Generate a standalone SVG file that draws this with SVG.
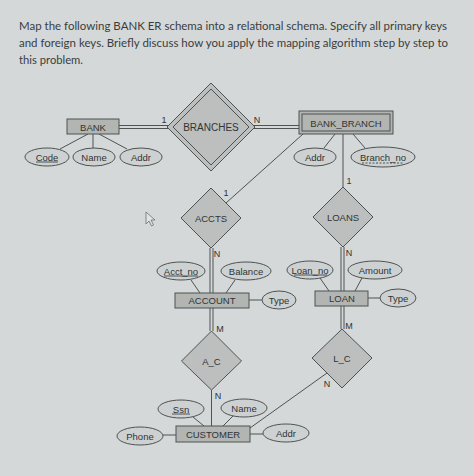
<svg xmlns="http://www.w3.org/2000/svg" width="474" height="476" viewBox="0 0 474 476">
<style>
.q{font-family:Lato,"Open Sans",sans-serif;font-size:12px;fill:#3a3d3f}
.t{font-family:"Liberation Sans",Arial,sans-serif;font-size:9.5px;fill:#303434;text-anchor:middle;dominant-baseline:central}
.n{font-family:"Liberation Sans",Arial,sans-serif;font-size:9px;fill:#303434;text-anchor:middle;dominant-baseline:central}
.ent{fill:#b2b5b2;stroke:#4d5252;stroke-width:1}
.rel{fill:#bcbfbd;stroke:#4d5252;stroke-width:1}
.att{fill:#cdd1d1;stroke:#4d5252;stroke-width:1}
.ln{stroke:#4d5252;stroke-width:1;fill:none}
.ul{stroke:#303434;stroke-width:0.8}
</style>
<rect width="474" height="476" fill="#d5d8d8"/>
<text class="q" x="19" y="30" textLength="428" lengthAdjust="spacingAndGlyphs">Map the following BANK ER schema into a relational schema. Specify all primary keys</text>
<text class="q" x="19" y="47" textLength="429" lengthAdjust="spacingAndGlyphs">and foreign keys. Briefly discuss how you apply the mapping algorithm step by step to</text>
<text class="q" x="19" y="64" textLength="64" lengthAdjust="spacingAndGlyphs">this problem.</text>

<g id="connectors">
  <line class="ln" x1="119" y1="125.5" x2="170" y2="125.5"/>
  <line class="ln" x1="119" y1="128.5" x2="170" y2="128.5"/>
  <line class="ln" x1="252" y1="125.5" x2="299" y2="125.5"/>
  <line class="ln" x1="252" y1="128.5" x2="299" y2="128.5"/>
  <line class="ln" x1="88" y1="134" x2="60" y2="149"/>
  <line class="ln" x1="93" y1="134" x2="93" y2="148"/>
  <line class="ln" x1="99" y1="134" x2="127" y2="149"/>
  <line class="ln" x1="335" y1="134" x2="324" y2="148"/>
  <line class="ln" x1="353" y1="134" x2="365" y2="148"/>
  <line class="ln" x1="343" y1="134" x2="343" y2="187"/>
  <line class="ln" x1="303" y1="134" x2="226" y2="203"/>
  <line class="ln" x1="210" y1="248" x2="210" y2="331"/>
  <line class="ln" x1="213" y1="248" x2="213" y2="331"/>
  <line class="ln" x1="341" y1="247" x2="341" y2="329"/>
  <line class="ln" x1="344" y1="247" x2="344" y2="329"/>
  <line class="ln" x1="191" y1="280" x2="200" y2="293"/>
  <line class="ln" x1="235" y1="280" x2="226" y2="293"/>
  <line class="ln" x1="249" y1="300" x2="262" y2="300"/>
  <line class="ln" x1="320" y1="278" x2="329" y2="291"/>
  <line class="ln" x1="362" y1="278" x2="355" y2="291"/>
  <line class="ln" x1="368" y1="298" x2="380" y2="298"/>
  <line class="ln" x1="211.5" y1="390" x2="211.5" y2="426"/>
  <line class="ln" x1="250" y1="428" x2="327" y2="373"/>
  <line class="ln" x1="193" y1="417" x2="204" y2="426"/>
  <line class="ln" x1="233" y1="416" x2="223" y2="426"/>
  <line class="ln" x1="163" y1="435" x2="176" y2="435"/>
  <line class="ln" x1="250" y1="434" x2="263" y2="434"/>
  <text class="n" x="164" y="120">1</text>
  <text class="n" x="257" y="120">N</text>
  <text class="n" x="349" y="181">1</text>
  <text class="n" x="226" y="193">1</text>
  <text class="n" x="217" y="254">N</text>
  <text class="n" x="349" y="253">N</text>
  <text class="n" x="220" y="329">M</text>
  <text class="n" x="349" y="326">M</text>
  <text class="n" x="218" y="396">N</text>
  <text class="n" x="327" y="384">N</text>
</g>

<g id="BANK">
  <rect class="ent" x="67" y="119" width="52" height="15"/>
  <text class="t" x="93" y="127">BANK</text>
</g>
<g id="BANK_Code">
  <ellipse class="att" cx="47" cy="157" rx="22" ry="9"/>
  <text class="t" x="47" y="157">Code</text>
  <line class="ul" x1="36" y1="162" x2="58" y2="162"/>
</g>
<g id="BANK_Name">
  <ellipse class="att" cx="94" cy="157" rx="21" ry="9"/>
  <text class="t" x="94" y="157">Name</text>
</g>
<g id="BANK_Addr">
  <ellipse class="att" cx="141" cy="157" rx="21" ry="9"/>
  <text class="t" x="141" y="157">Addr</text>
</g>

<g id="BRANCHES">
  <polygon class="rel" points="211,83 255,127 211,171 167,127"/>
  <polygon class="ln" points="211,89 249,127 211,165 173,127"/>
  <text class="t" x="211" y="127" style="font-size:10px">BRANCHES</text>
</g>

<g id="BANK_BRANCH">
  <rect class="ent" x="299" y="111" width="94" height="23"/>
  <rect class="ln" x="302" y="114" width="88" height="17"/>
  <text class="t" x="346" y="123">BANK_BRANCH</text>
</g>
<g id="BB_Addr">
  <ellipse class="att" cx="315" cy="157" rx="21" ry="9"/>
  <text class="t" x="315" y="157">Addr</text>
</g>
<g id="BB_Branch_no">
  <ellipse class="att" cx="383" cy="157" rx="32" ry="10"/>
  <text class="t" x="383" y="157">Branch_no</text>
  <line class="ul" x1="362" y1="163" x2="404" y2="163" stroke-dasharray="2,1.5"/>
</g>

<g id="ACCTS">
  <polygon class="rel" points="211,188 241,218 211,248 181,218"/>
  <text class="t" x="211" y="218">ACCTS</text>
</g>
<g id="LOANS">
  <polygon class="rel" points="343,187 373,217 343,247 313,217"/>
  <text class="t" x="343" y="217">LOANS</text>
</g>

<g id="ACCOUNT">
  <rect class="ent" x="175" y="293" width="74" height="15"/>
  <text class="t" x="212" y="300.5">ACCOUNT</text>
</g>
<g id="ACC_Acct_no">
  <ellipse class="att" cx="181" cy="271" rx="24" ry="9"/>
  <text class="t" x="181" y="271">Acct_no</text>
  <line class="ul" x1="164" y1="276" x2="198" y2="276"/>
</g>
<g id="ACC_Balance">
  <ellipse class="att" cx="246" cy="271" rx="25" ry="9"/>
  <text class="t" x="246" y="271">Balance</text>
</g>
<g id="ACC_Type">
  <ellipse class="att" cx="279" cy="300" rx="17" ry="9"/>
  <text class="t" x="279" y="300">Type</text>
</g>

<g id="LOAN">
  <rect class="ent" x="315" y="291" width="53" height="15"/>
  <text class="t" x="342" y="298.5">LOAN</text>
</g>
<g id="LOAN_Loan_no">
  <ellipse class="att" cx="310" cy="270" rx="23" ry="9"/>
  <text class="t" x="310" y="270">Loan_no</text>
  <line class="ul" x1="294" y1="275" x2="327" y2="275"/>
</g>
<g id="LOAN_Amount">
  <ellipse class="att" cx="375" cy="270" rx="27" ry="9"/>
  <text class="t" x="375" y="270">Amount</text>
</g>
<g id="LOAN_Type">
  <ellipse class="att" cx="398" cy="298" rx="18" ry="9"/>
  <text class="t" x="398" y="298">Type</text>
</g>

<g id="A_C">
  <polygon class="rel" points="211.5,331 241.5,361 211.5,390 181.5,361"/>
  <text class="t" x="211.5" y="361">A_C</text>
</g>
<g id="L_C">
  <polygon class="rel" points="342,329 372,358 342,388 312,358"/>
  <text class="t" x="342" y="358">L_C</text>
</g>

<g id="CUSTOMER">
  <rect class="ent" x="176" y="426" width="74" height="16"/>
  <text class="t" x="213" y="434">CUSTOMER</text>
</g>
<g id="CUST_Ssn">
  <ellipse class="att" cx="181" cy="409" rx="23" ry="9"/>
  <text class="t" x="181" y="409">Ssn</text>
  <line class="ul" x1="172" y1="414" x2="190" y2="414"/>
</g>
<g id="CUST_Name">
  <ellipse class="att" cx="244" cy="408" rx="23" ry="9"/>
  <text class="t" x="244" y="408">Name</text>
</g>
<g id="CUST_Phone">
  <ellipse class="att" cx="140" cy="436" rx="23" ry="9"/>
  <text class="t" x="140" y="436">Phone</text>
</g>
<g id="CUST_Addr">
  <ellipse class="att" cx="286" cy="433" rx="23" ry="9"/>
  <text class="t" x="286" y="433">Addr</text>
</g>

<polygon points="146,212 146,224 149,221 151.5,226 153.5,225 151,220 155,220" fill="#e2e4e4" stroke="#6a6f6f" stroke-width="0.8"/>
</svg>
